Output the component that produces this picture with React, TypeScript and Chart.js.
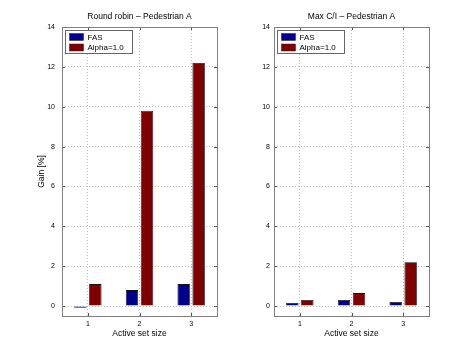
import React, { useEffect, useRef } from "react";
import { Chart, registerables } from "chart.js";

Chart.register(...registerables);

const categories = ["1", "2", "3"];
const seriesNames = ["FAS", "Alpha=1.0"];
const rrFAS = [-0.08, 0.8, 1.1];
const rrAlpha = [1.1, 9.8, 12.2];
const mciFAS = [0.15, 0.3, 0.2];
const mciAlpha = [0.3, 0.65, 2.2];
const yTickValues = [0, 2, 4, 6, 8, 10, 12, 14];
const titles = ["Round robin \u2013 Pedestrian A", "Max C/I \u2013 Pedestrian A"];
const xTitle = "Active set size";
const yTitle = "Gain [%]";

const FONT = "'Liberation Sans', Arial, sans-serif";
const BLUE = "#00008c";
const RED = "#800000";

const framePlugin = {
  id: "frame",
  afterDraw(chart: any) {
    const { ctx, chartArea: a, scales } = chart;
    ctx.save();
    ctx.strokeStyle = "#555";
    ctx.lineWidth = 1;
    const tl = 3;
    scales.y.ticks.forEach((t: any) => {
      const y = Math.round(scales.y.getPixelForValue(t.value)) + 0.5;
      ctx.beginPath();
      ctx.moveTo(a.left, y);
      ctx.lineTo(a.left + tl, y);
      ctx.moveTo(a.right, y);
      ctx.lineTo(a.right - tl, y);
      ctx.stroke();
    });
    scales.x.ticks.forEach((_t: any, i: number) => {
      const x = Math.round(scales.x.getPixelForTick(i)) + 0.5;
      ctx.beginPath();
      ctx.moveTo(x, a.bottom);
      ctx.lineTo(x, a.bottom - tl);
      ctx.moveTo(x, a.top);
      ctx.lineTo(x, a.top + tl);
      ctx.stroke();
    });
    ctx.strokeStyle = "#808080";
    ctx.strokeRect(Math.round(a.left) + 0.5, Math.round(a.top) + 0.5, Math.round(a.right - a.left), Math.round(a.bottom - a.top));
    // legend
    const lx = Math.round(a.left) + 3.5;
    const ly = Math.round(a.top) + 3.5;
    const lw = 67;
    const lh = 23;
    ctx.fillStyle = "#fff";
    ctx.fillRect(lx, ly, lw, lh);
    ctx.strokeStyle = "#666";
    ctx.strokeRect(lx, ly, lw, lh);
    const colors = [BLUE, RED];
    ctx.font = `8px ${FONT}`;
    ctx.textBaseline = "middle";
    ctx.textAlign = "left";
    seriesNames.forEach((n, i) => {
      const cy = ly + 6.5 + i * 10.5;
      ctx.fillStyle = colors[i];
      ctx.fillRect(lx + 4, cy - 3.5, 14, 7);
      ctx.strokeStyle = "#222";
      ctx.lineWidth = 0.5;
      ctx.strokeRect(lx + 4, cy - 3.5, 14, 7);
      ctx.fillStyle = "#000";
      ctx.fillText(n, lx + 22, cy + 0.5);
    });
    ctx.restore();
  },
};

function makeConfig(title: string, fas: number[], alpha: number[], left: boolean) {
  const yWidth = left ? 62 : 37;
  return {
    type: "bar" as const,
    data: {
      labels: categories,
      datasets: [
        { label: seriesNames[0], data: fas, backgroundColor: BLUE, borderColor: "#111", borderWidth: 0.8 },
        { label: seriesNames[1], data: alpha, backgroundColor: RED, borderColor: "#111", borderWidth: 0.8 },
      ],
    },
    options: {
      animation: false,
      responsive: false,
      maintainAspectRatio: false,
      layout: { padding: { left: 0, right: left ? 20 : 45, top: 0, bottom: 0 } },
      datasets: { bar: { categoryPercentage: 0.58, barPercentage: 0.83 } },
      plugins: {
        legend: { display: false },
        tooltip: { enabled: false },
        title: {
          display: true,
          text: title,
          fullSize: false,
          color: "#000",
          font: { family: FONT, size: 8.5, weight: "normal" },
          padding: { top: 12, bottom: 4.8 },
        },
      },
      scales: {
        x: {
          type: "category",
          offset: true,
          grid: { offset: false, color: "#c0c0c0", drawTicks: false },
          border: { display: false, dash: [1, 2] },
          ticks: { color: "#000", font: { family: FONT, size: 7 }, padding: 4 },
          title: {
            display: true,
            text: xTitle,
            color: "#000",
            font: { family: FONT, size: 8.5 },
            padding: { top: 0, bottom: 16.6 },
          },
          afterFit(scale: any) {
            scale.height = 39;
          },
        },
        y: {
          type: "linear",
          min: -0.5,
          max: 14,
          grid: { color: "#c0c0c0", drawTicks: false },
          border: { display: false, dash: [1, 2] },
          ticks: { color: "#000", font: { family: FONT, size: 7 }, padding: left ? 7 : 4 },
          afterBuildTicks(scale: any) {
            scale.ticks = yTickValues.map((v) => ({ value: v }));
          },
          title: {
            display: left,
            text: yTitle,
            color: "#000",
            font: { family: FONT, size: 8.5 },
            padding: { top: 37, bottom: 0 },
          },
          afterFit(scale: any) {
            scale.width = yWidth;
          },
        },
      },
    },
    plugins: [framePlugin],
  };
}

function Panel({ idx }: { idx: number }) {
  const ref = useRef<HTMLCanvasElement>(null);
  useEffect(() => {
    if (!ref.current) return;
    const cfg: any =
      idx === 0
        ? makeConfig(titles[0], rrFAS, rrAlpha, true)
        : makeConfig(titles[1], mciFAS, mciAlpha, false);
    const chart = new Chart(ref.current, cfg);
    return () => chart.destroy();
  }, [idx]);
  return (
    <canvas
      ref={ref}
      width={237}
      height={355}
      style={{ position: "absolute", left: idx === 0 ? 0 : 237, top: 0, width: 237, height: 355 }}
    />
  );
}

export default function App() {
  return (
    <div style={{ position: "fixed", left: 0, top: 0, width: 474, height: 355, background: "#fff" }}>
      <Panel idx={0} />
      <Panel idx={1} />
    </div>
  );
}
